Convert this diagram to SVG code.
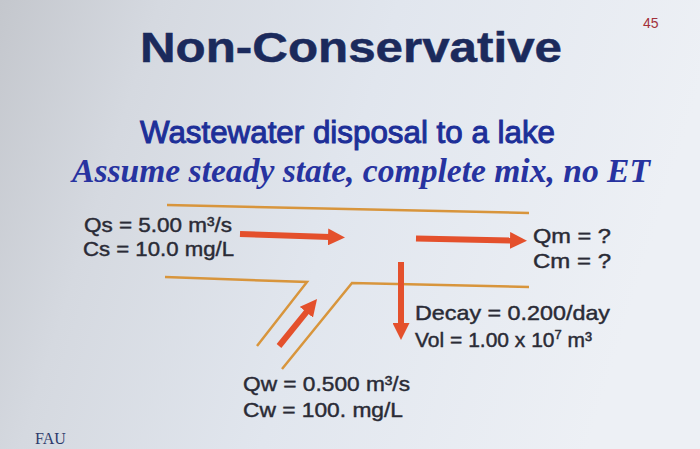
<svg xmlns="http://www.w3.org/2000/svg" width="700" height="449" viewBox="0 0 700 449">
  <defs>
    <linearGradient id="bg" x1="0" y1="0" x2="1" y2="0.2">
      <stop offset="0" stop-color="#c4c7cd"/>
      <stop offset="0.22" stop-color="#d5d9e0"/>
      <stop offset="0.55" stop-color="#e1e6ee"/>
      <stop offset="1" stop-color="#edf0f5"/>
    </linearGradient>
    <marker id="head" markerUnits="userSpaceOnUse" markerWidth="17" markerHeight="17" refX="2" refY="8.5" orient="auto">
      <path d="M0,0 L17,8.5 L0,17 z" fill="#e4502c"/>
    </marker>
    <style>
      .body { font-family: "Liberation Sans", Arial, sans-serif; font-size: 21px; fill: #2a2b36; stroke: #2a2b36; stroke-width: 0.45; }
      .pipe { fill: none; stroke: #d8953c; stroke-width: 2.5; stroke-linejoin: miter; }
      .arrow { fill: none; stroke: #e4502c; stroke-width: 6; marker-end: url(#head); }
    </style>
  </defs>

  <rect x="0" y="0" width="700" height="449" fill="url(#bg)"/>

  <g id="page-number">
    <text x="643" y="28" font-family="Liberation Sans, Arial, sans-serif" font-size="14" fill="#a3303a">45</text>
  </g>

  <g id="title">
    <text x="140" y="62" font-family="Liberation Sans, Arial, sans-serif" font-size="43" font-weight="bold" fill="#1b2a5c" stroke="#1b2a5c" stroke-width="0.5" textLength="422" lengthAdjust="spacingAndGlyphs">Non-Conservative</text>
  </g>

  <g id="subtitle">
    <text x="140" y="143" font-family="Liberation Sans, Arial, sans-serif" font-size="31" fill="#1d2f98" stroke="#1d2f98" stroke-width="1" textLength="415" lengthAdjust="spacingAndGlyphs">Wastewater disposal to a lake</text>
    <text x="72" y="182" font-family="Liberation Serif, 'Times New Roman', serif" font-size="33" font-style="italic" font-weight="bold" fill="#2733a0" textLength="578" lengthAdjust="spacingAndGlyphs">Assume steady state, complete mix, no ET</text>
  </g>

  <g id="pipes">
    <path class="pipe" d="M167,205 L529,213"/>
    <path class="pipe" d="M165,277 L307,282 L257,346"/>
    <path class="pipe" d="M282,369 L352,283 L529,287"/>
  </g>

  <g id="connectors">
    <line class="arrow" x1="240" y1="234" x2="330" y2="237"/>
    <line class="arrow" x1="416" y1="238.5" x2="512" y2="240.5"/>
    <line class="arrow" x1="401" y1="262" x2="401" y2="325"/>
    <line class="arrow" x1="279" y1="346" x2="307.6" y2="310.7"/>
  </g>

  <g id="stream-input">
    <text class="body" x="84" y="232" textLength="148" lengthAdjust="spacingAndGlyphs">Qs = 5.00 m³/s</text>
    <text class="body" x="83" y="256" textLength="151" lengthAdjust="spacingAndGlyphs">Cs = 10.0 mg/L</text>
  </g>

  <g id="mixed-output">
    <text class="body" x="533" y="243" textLength="78" lengthAdjust="spacingAndGlyphs">Qm = ?</text>
    <text class="body" x="533" y="268" textLength="78" lengthAdjust="spacingAndGlyphs">Cm = ?</text>
  </g>

  <g id="lake">
    <text class="body" x="415" y="320" textLength="195" lengthAdjust="spacingAndGlyphs">Decay = 0.200/day</text>
    <text class="body" x="415" y="347">Vol = 1.00 x 10<tspan font-size="13" dy="-8">7</tspan><tspan dy="8"> m³</tspan></text>
  </g>

  <g id="wastewater-input">
    <text class="body" x="243" y="391" textLength="167" lengthAdjust="spacingAndGlyphs">Qw = 0.500 m³/s</text>
    <text class="body" x="243" y="417" textLength="160" lengthAdjust="spacingAndGlyphs">Cw = 100. mg/L</text>
  </g>

  <g id="logo">
    <text x="35" y="444" font-family="Liberation Serif, 'Times New Roman', serif" font-size="16" fill="#2d3a6b">FAU</text>
  </g>
</svg>
